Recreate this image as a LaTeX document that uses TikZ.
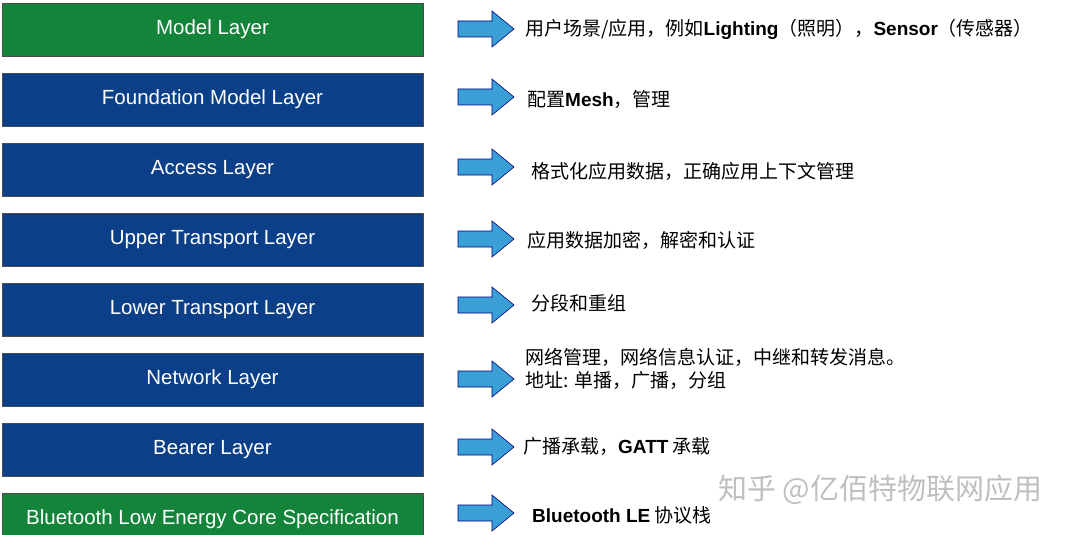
\documentclass[tikz,border=0pt]{standalone}
\usepackage{fontspec}
\setmainfont{Liberation Sans}
\newfontfamily\cjk{Noto Sans CJK SC}
\newcommand\lb[1]{{\rmfamily\bfseries #1}}
\begin{document}
\begin{tikzpicture}[x=1pt,y=-1pt,
 layerbox/.style={draw=black!70,line width=0.8pt,minimum width=421pt,minimum height=53pt,text=white,font=\fontsize{20.5}{24}\selectfont,inner sep=0pt},
 desc/.style={anchor=west,font=\cjk\fontsize{19}{23}\selectfont,inner sep=0pt,align=left}]
\useasboundingbox (0,0) rectangle (1072,535);
\definecolor{lgreen}{HTML}{13843A}
\definecolor{lblue}{HTML}{0B3F87}
\definecolor{arrc}{HTML}{3A9FD5}
\def\arrowat#1{\draw[fill=arrc,draw=blue!50!black,line width=0.6pt] (458,#1-8) -- (492,#1-8) -- (492,#1-18) -- (514,#1) -- (492,#1+18) -- (492,#1+8) -- (458,#1+8) -- cycle;}
\node[layerbox,fill=lgreen] (l1) at (212.5,29.5) {Model Layer};
\node[layerbox,fill=lblue] (l2) at (212.5,99.5) {Foundation Model Layer};
\node[layerbox,fill=lblue] (l3) at (212.5,169.5) {Access Layer};
\node[layerbox,fill=lblue] (l4) at (212.5,239.5) {Upper Transport Layer};
\node[layerbox,fill=lblue] (l5) at (212.5,309.5) {Lower Transport Layer};
\node[layerbox,fill=lblue] (l6) at (212.5,379.5) {Network Layer};
\node[layerbox,fill=lblue] (l7) at (212.5,449.5) {Bearer Layer};
\node[layerbox,fill=lgreen] (l8) at (212.5,519.5) {Bluetooth Low Energy Core Specification};
\arrowat{29}\arrowat{97}\arrowat{167}\arrowat{239}\arrowat{305}\arrowat{379}\arrowat{447}\arrowat{513}
\node[desc] (d1) at (525,29) {用户场景/应用，例如\lb{Lighting}（照明），\lb{Sensor}（传感器）};
\node[desc] (d2) at (527,99) {配置\lb{Mesh}，管理};
\node[desc] (d3) at (531,171) {格式化应用数据，正确应用上下文管理};
\node[desc] (d4) at (527,240) {应用数据加密，解密和认证};
\node[desc] (d5) at (531,303) {分段和重组};
\node[desc] (d6) at (525,369) {网络管理，网络信息认证，中继和转发消息。\\地址: 单播，广播，分组};
\node[desc] (d7) at (523,447) {广播承载，\lb{GATT} 承载};
\node[desc] (d8) at (532,515) {\lb{Bluetooth LE} 协议栈};
\node[anchor=west,text=black!25,font=\cjk\fontsize{29}{33}\selectfont,inner sep=0pt] (wm) at (718,490) {知乎 @亿佰特物联网应用};
\end{tikzpicture}
\end{document}
